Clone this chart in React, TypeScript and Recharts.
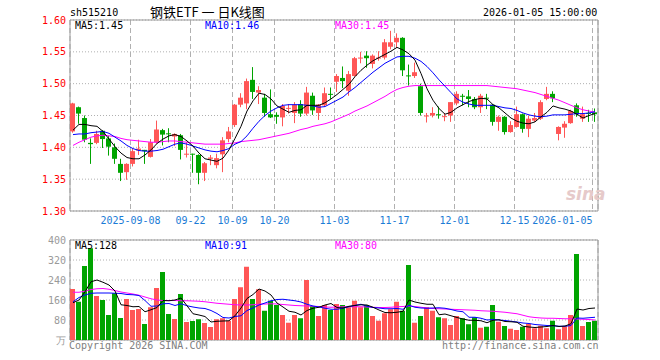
import { Bar, CartesianGrid, ComposedChart, Line, ReferenceArea, XAxis, YAxis } from "recharts";

const MONO = "'DejaVu Sans Mono', monospace";
const CJK = "'Noto Sans CJK SC', sans-serif";
const RED = "#ff5656";
const GREEN = "#00a400";
const GRID = "#b0b0b0";

// date ticks: index of the trading day in the series, and its label
const TICK_IDX = [10, 20, 27, 34, 44, 54, 64, 74, 87];
const TICK_LABEL = ["2025-09-08", "09-22", "10-09", "10-20", "11-03", "11-17", "12-01", "12-15", "2026-01-05"];
const PRICE_TICKS = [1.3, 1.35, 1.4, 1.45, 1.5, 1.55, 1.6];
const VOL_TICKS = [0, 80, 160, 240, 320, 400];

const OPEN = [
  1.425, 1.463, 1.446, 1.407, 1.407, 1.426, 1.414, 1.4, 1.374, 1.361,
  1.374, 1.395, 1.396, 1.385, 1.408, 1.427, 1.422, 1.417, 1.419, 1.389,
  1.39, 1.388, 1.36, 1.382, 1.372, 1.389, 1.413, 1.435, 1.467, 1.469,
  1.506, 1.486, 1.478, 1.452, 1.451, 1.447, 1.461, 1.454, 1.468, 1.453,
  1.481, 1.454, 1.466, 1.484, 1.503, 1.509, 1.489, 1.512, 1.54, 1.544,
  1.531, 1.54, 1.541, 1.558, 1.565, 1.572, 1.513, 1.512, 1.496, 1.449,
  1.45, 1.452, 1.448, 1.45, 1.469, 1.481, 1.48, 1.476, 1.463, 1.478,
  1.467, 1.44, 1.448, 1.424, 1.432, 1.452, 1.429, 1.442, 1.445, 1.476,
  1.484, 1.421, 1.431, 1.438, 1.466, 1.445, 1.454, 1.455,
];
const HIGH = [
  1.47, 1.464, 1.45, 1.414, 1.426, 1.427, 1.418, 1.406, 1.382, 1.375,
  1.398, 1.412, 1.396, 1.413, 1.442, 1.429, 1.43, 1.422, 1.421, 1.408,
  1.39, 1.389, 1.377, 1.388, 1.39, 1.416, 1.432, 1.468, 1.485, 1.508,
  1.526, 1.496, 1.484, 1.491, 1.455, 1.468, 1.468, 1.471, 1.474, 1.495,
  1.486, 1.468, 1.494, 1.494, 1.515, 1.527, 1.52, 1.542, 1.55, 1.551,
  1.546, 1.551, 1.57, 1.583, 1.579, 1.573, 1.53, 1.533, 1.5, 1.454,
  1.463, 1.464, 1.454, 1.471, 1.488, 1.484, 1.49, 1.479, 1.484, 1.484,
  1.468, 1.45, 1.449, 1.441, 1.464, 1.453, 1.45, 1.454, 1.474, 1.495,
  1.488, 1.433, 1.441, 1.459, 1.469, 1.464, 1.459, 1.461,
];
const LOW = [
  1.423, 1.437, 1.408, 1.374, 1.405, 1.399, 1.387, 1.374, 1.347, 1.349,
  1.37, 1.388, 1.374, 1.384, 1.405, 1.403, 1.408, 1.402, 1.381, 1.384,
  1.36, 1.342, 1.347, 1.372, 1.367, 1.361, 1.408, 1.432, 1.463, 1.46,
  1.476, 1.468, 1.448, 1.446, 1.437, 1.433, 1.453, 1.438, 1.448, 1.45,
  1.451, 1.443, 1.464, 1.476, 1.487, 1.493, 1.481, 1.511, 1.532, 1.525,
  1.524, 1.536, 1.538, 1.554, 1.556, 1.512, 1.497, 1.509, 1.45, 1.439,
  1.447, 1.445, 1.441, 1.44, 1.466, 1.466, 1.463, 1.46, 1.454, 1.46,
  1.434, 1.426, 1.42, 1.423, 1.431, 1.423, 1.416, 1.44, 1.443, 1.474,
  1.471, 1.411, 1.415, 1.437, 1.448, 1.44, 1.44, 1.44,
];
const CLOSE = [
  1.469, 1.453, 1.412, 1.405, 1.421, 1.413, 1.401, 1.382, 1.36, 1.374,
  1.394, 1.398, 1.394, 1.408, 1.428, 1.42, 1.421, 1.421, 1.396, 1.39,
  1.389, 1.36, 1.375, 1.384, 1.383, 1.411, 1.425, 1.467, 1.478, 1.504,
  1.487, 1.49, 1.454, 1.447, 1.448, 1.465, 1.462, 1.467, 1.453, 1.486,
  1.458, 1.467, 1.485, 1.483, 1.512, 1.504, 1.515, 1.54, 1.541, 1.54,
  1.544, 1.541, 1.565, 1.565, 1.572, 1.521, 1.512, 1.518, 1.454, 1.45,
  1.454, 1.451, 1.449, 1.471, 1.484, 1.48, 1.476, 1.463, 1.481, 1.477,
  1.44, 1.448, 1.424, 1.435, 1.452, 1.429, 1.445, 1.446, 1.471, 1.484,
  1.477, 1.432, 1.437, 1.457, 1.452, 1.452, 1.453, 1.452,
];
const MA5 = [
  1.427, 1.436, 1.436, 1.434, 1.433, 1.425, 1.413, 1.401, 1.391, 1.384,
  1.382, 1.382, 1.388, 1.396, 1.406, 1.413, 1.418, 1.42, 1.417, 1.41,
  1.402, 1.391, 1.382, 1.38, 1.378, 1.383, 1.396, 1.414, 1.433, 1.457,
  1.473, 1.485, 1.483, 1.476, 1.465, 1.46, 1.455, 1.458, 1.459, 1.466,
  1.466, 1.466, 1.47, 1.476, 1.483, 1.491, 1.499, 1.511, 1.521, 1.529,
  1.536, 1.541, 1.546, 1.551, 1.557, 1.553, 1.547, 1.537, 1.516, 1.492,
  1.474, 1.461, 1.452, 1.455, 1.462, 1.467, 1.472, 1.475, 1.477, 1.476,
  1.467, 1.462, 1.454, 1.446, 1.441, 1.438, 1.437, 1.44, 1.448, 1.455,
  1.465, 1.462, 1.46, 1.457, 1.452, 1.446, 1.45, 1.453,
];
const MA10 = [
  1.42, 1.421, 1.421, 1.423, 1.424, 1.425, 1.422, 1.416, 1.41, 1.403,
  1.398, 1.395, 1.394, 1.394, 1.395, 1.397, 1.401, 1.405, 1.407, 1.405,
  1.402, 1.399, 1.396, 1.394, 1.393, 1.395, 1.398, 1.405, 1.409, 1.418,
  1.43, 1.441, 1.45, 1.457, 1.462, 1.466, 1.467, 1.467, 1.467, 1.466,
  1.465, 1.463, 1.464, 1.469, 1.474, 1.479, 1.487, 1.494, 1.502, 1.51,
  1.518, 1.525, 1.532, 1.537, 1.542, 1.543, 1.543, 1.54, 1.535, 1.527,
  1.517, 1.506, 1.496, 1.486, 1.476, 1.471, 1.468, 1.466, 1.466, 1.466,
  1.466, 1.464, 1.462, 1.461, 1.458, 1.454, 1.451, 1.449, 1.448, 1.449,
  1.451, 1.451, 1.451, 1.452, 1.453, 1.453, 1.454, 1.456,
];
const MA30 = [
  1.403, 1.408, 1.412, 1.416, 1.418, 1.419, 1.418, 1.417, 1.414, 1.412,
  1.411, 1.41, 1.409, 1.408, 1.408, 1.409, 1.41, 1.41, 1.409, 1.408,
  1.407, 1.406, 1.405, 1.405, 1.405, 1.405, 1.406, 1.407, 1.409, 1.41,
  1.411, 1.412, 1.414, 1.416, 1.418, 1.42, 1.422, 1.425, 1.428, 1.43,
  1.433, 1.435, 1.437, 1.44, 1.444, 1.448, 1.452, 1.457, 1.461, 1.465,
  1.47, 1.475, 1.48, 1.486, 1.491, 1.494, 1.496, 1.497, 1.497, 1.497,
  1.497, 1.497, 1.497, 1.497, 1.497, 1.497, 1.497, 1.497, 1.497, 1.497,
  1.496, 1.495, 1.494, 1.493, 1.492, 1.49, 1.488, 1.486, 1.483, 1.48,
  1.477, 1.474, 1.47, 1.466, 1.462, 1.459, 1.457, 1.455,
];

// volume in 万
const VOL = [
  204, 153, 296, 367, 176, 160, 100, 187, 88, 164,
  120, 124, 64, 131, 208, 272, 104, 84, 184, 72,
  76, 83, 68, 52, 83, 87, 77, 164, 211, 293,
  164, 203, 117, 157, 140, 100, 69, 100, 87, 240,
  136, 96, 140, 120, 144, 140, 131, 157, 131, 140,
  96, 77, 107, 123, 153, 117, 300, 69, 96, 131,
  117, 91, 87, 60, 96, 87, 63, 91, 49, 53,
  140, 73, 56, 45, 40, 53, 64, 47, 57, 47,
  77, 43, 56, 100, 344, 56, 72, 77,
];
const VMA5 = [
  149, 160, 193, 233, 240, 231, 220, 196, 141, 138,
  133, 134, 113, 121, 130, 158, 157, 160, 168, 137,
  105, 100, 94, 72, 75, 76, 77, 97, 128, 166,
  182, 204, 196, 180, 148, 132, 115, 111, 100, 118,
  127, 131, 140, 146, 130, 128, 135, 138, 141, 140,
  131, 120, 110, 109, 111, 115, 160, 152, 147, 143,
  143, 101, 104, 97, 90, 84, 79, 79, 77, 69,
  79, 81, 74, 73, 71, 55, 52, 50, 52, 54,
  58, 54, 56, 65, 124, 120, 126, 128,
];
const VMA10 = [
  153, 170, 180, 187, 188, 188, 188, 187, 186, 182,
  181, 178, 158, 135, 136, 145, 146, 138, 145, 137,
  132, 128, 126, 118, 106, 90, 88, 94, 97, 118,
  128, 140, 148, 157, 162, 163, 160, 157, 152, 143,
  136, 132, 127, 123, 123, 127, 133, 139, 143, 135,
  130, 128, 125, 125, 126, 123, 139, 131, 128, 127,
  128, 129, 127, 122, 116, 113, 91, 91, 87, 80,
  82, 80, 78, 75, 72, 68, 66, 62, 60, 58,
  57, 55, 55, 58, 88, 87, 89, 91,
];
const VMA30 = [
  191, 191, 195, 202, 205, 206, 203, 198, 192, 188,
  184, 179, 172, 165, 160, 158, 158, 158, 157, 157,
  156, 155, 153, 150, 147, 145, 143, 141, 140, 140,
  141, 143, 144, 145, 144, 142, 140, 138, 137, 136,
  135, 134, 132, 131, 132, 133, 133, 133, 133, 132,
  131, 130, 130, 131, 133, 134, 136, 134, 131, 128,
  126, 125, 124, 123, 122, 121, 120, 119, 117, 116,
  115, 113, 111, 108, 105, 99, 93, 90, 88, 87,
  87, 86, 85, 85, 84, 83, 82, 80,
];

const rows = OPEN.map((open, i) => ({
  i,
  open,
  high: HIGH[i],
  low: LOW[i],
  close: CLOSE[i],
  ma5: MA5[i],
  ma10: MA10[i],
  ma30: MA30[i],
  vol: VOL[i],
  vma5: VMA5[i],
  vma10: VMA10[i],
  vma30: VMA30[i],
}));

// grid lines sit on the left edge of the day's slot
const XTICKS = TICK_IDX.map((i) => i - 0.5 + 1 / 12);
const X_DOMAIN: [number, number] = [-0.5, 87.5];

function CandleShape(props: any) {
  const { x, y, width, height, payload } = props;
  const { open, close, high, low } = payload;
  const color = close >= open ? RED : GREEN;
  const left = Math.floor(x);
  const mid = left + Math.floor(width / 2) + 0.5;
  const span = high - low;
  const toY = (v: number) => (span > 0 ? y + ((high - v) / span) * height : y);
  const top = toY(Math.max(open, close));
  const bottom = toY(Math.min(open, close));
  return (
    <g>
      <line x1={mid} x2={mid} y1={y} y2={y + height} stroke={color} strokeWidth={1} />
      <rect x={left} y={top} width={5} height={Math.max(1, bottom - top)} fill={color} />
    </g>
  );
}

function VolShape(props: any) {
  const { x, y, height, payload } = props;
  const color = payload.close >= payload.open ? RED : GREEN;
  return <rect x={Math.floor(x)} y={y} width={5} height={height} fill={color} />;
}

function DateTick(props: any) {
  const { x, y, payload } = props;
  const k = TICK_IDX.indexOf(Math.round(payload.value + 0.5));
  const last = k === TICK_IDX.length - 1;
  return (
    <text x={x} y={y + 9} textAnchor={last ? "end" : "middle"} fill="#1b7bd6" fontSize={10} fontFamily={MONO}>
      {TICK_LABEL[k]}
    </text>
  );
}

function Txt({ left, top, color = "#000", children }: { left: number; top: number; color?: string; children: any }) {
  return (
    <div style={{ position: "absolute", left, top, color, fontSize: 10, lineHeight: "12px", whiteSpace: "pre", fontFamily: MONO }}>
      {children}
    </div>
  );
}

export default function App() {
  return (
    <div style={{ position: "absolute", left: 0, top: 0, width: 660, height: 360, background: "#fff", overflow: "hidden" }}>
      <div style={{ position: "absolute", left: 0, top: 0 }}>
        <ComposedChart width={660} height={230} data={rows} margin={{ top: 20, right: 62, bottom: 0, left: 0 }}>
          <CartesianGrid horizontal vertical={false} stroke={GRID} strokeDasharray="1 2" />
          <CartesianGrid horizontal={false} vertical stroke={GRID} strokeDasharray="5 3" />
          <XAxis
            type="number"
            dataKey="i"
            domain={X_DOMAIN}
            ticks={XTICKS}
            interval={0}
            tick={DateTick}
            tickLine={false}
            axisLine={false}
            tickSize={0}
            tickMargin={4}
            height={19}
            allowDataOverflow
          />
          <YAxis
            type="number"
            domain={[1.3, 1.6]}
            ticks={PRICE_TICKS}
            interval={0}
            width={70}
            tickLine={false}
            axisLine={false}
            tickSize={4}
            tickMargin={0}
            tick={{ fill: "#f00", fontSize: 10, fontFamily: MONO }}
            tickFormatter={(v: number) => v.toFixed(2)}
            allowDataOverflow
          />
          <Bar dataKey={(d: any) => [d.low, d.high]} barSize={5} shape={CandleShape} isAnimationActive={false} />
          <Line dataKey="ma30" stroke="#f0f" strokeWidth={1} dot={false} isAnimationActive={false} />
          <Line dataKey="ma10" stroke="#00f" strokeWidth={1} dot={false} isAnimationActive={false} />
          <Line dataKey="ma5" stroke="#000" strokeWidth={1} dot={false} isAnimationActive={false} />
          <ReferenceArea x1={X_DOMAIN[0]} x2={X_DOMAIN[1]} y1={1.3} y2={1.6} fill="none" stroke="#999" strokeWidth={1} />
        </ComposedChart>
      </div>

      <div style={{ position: "absolute", left: 0, top: 230 }}>
        <ComposedChart width={660} height={130} data={rows} margin={{ top: 10, right: 62, bottom: 20, left: 0 }}>
          <CartesianGrid horizontal vertical={false} stroke={GRID} strokeDasharray="1 2" />
          <CartesianGrid horizontal={false} vertical stroke={GRID} strokeDasharray="5 3" />
          <XAxis
            type="number"
            dataKey="i"
            domain={X_DOMAIN}
            ticks={XTICKS}
            interval={0}
            tick={false}
            tickLine={false}
            axisLine={false}
            height={0}
            allowDataOverflow
          />
          <YAxis
            type="number"
            domain={[0, 400]}
            ticks={VOL_TICKS}
            interval={0}
            width={70}
            tickLine={false}
            axisLine={false}
            tickSize={4}
            tickMargin={0}
            tick={{ fill: "#9a9a9a", fontSize: 10, fontFamily: MONO }}
            tickFormatter={(v: number) => (v === 0 ? "万" : String(v))}
            allowDataOverflow
          />
          <Bar dataKey="vol" barSize={5} shape={VolShape} isAnimationActive={false} />
          <Line dataKey="vma30" stroke="#f0f" strokeWidth={1} dot={false} isAnimationActive={false} />
          <Line dataKey="vma10" stroke="#00f" strokeWidth={1} dot={false} isAnimationActive={false} />
          <Line dataKey="vma5" stroke="#000" strokeWidth={1} dot={false} isAnimationActive={false} />
          <ReferenceArea x1={X_DOMAIN[0]} x2={X_DOMAIN[1]} y1={0} y2={400} fill="none" stroke="#999" strokeWidth={1} />
        </ComposedChart>
      </div>

      <Txt left={70} top={7}>sh515210</Txt>
      <div style={{ position: "absolute", left: 150, top: 3, fontSize: 13, lineHeight: "18px", fontFamily: CJK, color: "#000", whiteSpace: "pre" }}>
        钢铁ETF 一 日K线图
      </div>
      <Txt left={483} top={7}>2026-01-05 15:00:00</Txt>

      <Txt left={75} top={20}>MA5:1.45</Txt>
      <Txt left={205} top={20} color="#00f">MA10:1.46</Txt>
      <Txt left={335} top={20} color="#f0f">MA30:1.45</Txt>

      <Txt left={75} top={240}>MA5:128</Txt>
      <Txt left={205} top={240} color="#00f">MA10:91</Txt>
      <Txt left={335} top={240} color="#f0f">MA30:80</Txt>

      <div style={{ position: "absolute", left: 566, top: 184, fontSize: 17, fontWeight: 700, fontStyle: "italic", fontFamily: "'DejaVu Sans', sans-serif", color: "#e6caca" }}>
        sina
      </div>

      <Txt left={69} top={340} color="#808080">Copyright 2026 SINA.COM</Txt>
      <Txt left={442} top={340} color="#808080">http://finance.sina.com.cn</Txt>
    </div>
  );
}
